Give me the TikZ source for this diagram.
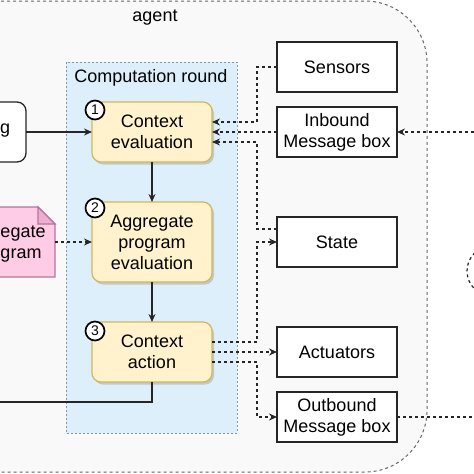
\documentclass[tikz,border=0pt]{standalone}
\usepackage{fontspec}
\setmainfont{Liberation Sans}
\usetikzlibrary{arrows.meta,calc,shadows}
\definecolor{agentfill}{HTML}{F9F9F9}
\definecolor{agentline}{HTML}{666666}
\definecolor{crfill}{HTML}{DEEFFC}
\definecolor{crline}{HTML}{7F96AE}
\definecolor{yfill}{HTML}{FFF2CC}
\definecolor{yline}{HTML}{D6B656}
\definecolor{pfill}{HTML}{FFCCE6}
\definecolor{pline}{HTML}{B5739D}
\definecolor{pfold}{HTML}{EDAFCD}
\begin{document}
\begin{tikzpicture}[x=1pt,y=-1pt,
  every node/.style={font=\fontsize{18}{21}\selectfont, align=center, outer sep=0pt},
  ybox/.style={draw=yline, fill=yfill, line width=1.2pt, rounded corners=9pt,
    minimum width=120pt, drop shadow={shadow xshift=2pt, shadow yshift=-2.5pt, opacity=0.35}},
  wbox/.style={draw=black!85, fill=white, line width=1.3pt, minimum width=120pt, minimum height=50pt},
  numc/.style={circle, draw=black, fill=white, line width=1.7pt, minimum size=19pt, inner sep=0pt,
    font=\fontsize{14}{14}\selectfont},
  solidarrow/.style={draw=black!85, line width=1.2pt, -{Stealth[length=8pt,width=7pt]}},
  solidline/.style={draw=black!85, line width=1.2pt},
  dasharrow/.style={draw=black!85, line width=1.2pt, dash pattern=on 3pt off 3pt, -{Stealth[length=8pt,width=7pt]}},
  dashline/.style={draw=black!85, line width=1.2pt, dash pattern=on 3pt off 3pt},
]
\useasboundingbox (0,0) rectangle (474,474);
\clip (0,0) rectangle (474,474);
\fill[white] (0,0) rectangle (474,474);

% agent container
\draw[fill=agentfill, draw=agentline, line width=1pt, dash pattern=on 3pt off 3pt, rounded corners=62pt]
  (-150,1) rectangle (427,472);
\node (agentlbl) at (155,18) {agent};

% computation round
\draw[fill=crfill, draw=crline, line width=1pt, dash pattern=on 2pt off 2pt]
  (66,62) rectangle (237,433);
\node (crlbl) at (151,78) {Computation round};

% yellow steps
\node[ybox, minimum height=60pt] (CE) at (152,132) {Context\\evaluation};
\node[ybox, minimum height=80pt] (AP) at (152,242) {Aggregate\\program\\evaluation};
\node[ybox, minimum height=60pt] (CA) at (152,352) {Context\\action};

\node[numc] (n1) at (95,110) {1};
\node[numc] (n2) at (95,208) {2};
\node[numc] (n3) at (95,331) {3};

% right boxes
\node[wbox] (sens) at (337,67) {Sensors};
\node[wbox] (inb) at (337,132) {Inbound\\Message box};
\node[wbox] (state) at (337,242) {State};
\node[wbox] (act) at (337,352) {Actuators};
\node[wbox] (outb) at (337,417) {Outbound\\Message box};

% left box
\node[draw=black!85, fill=white, line width=1.3pt, rounded corners=9pt, minimum width=120pt, minimum height=60pt] (sched) at (-34,132) {};
\node[inner sep=0pt, anchor=base west] (schedtxt) at (0,133) {g};

% pink note
\draw[fill=pfill, draw=pline, line width=1.2pt] (-55,207) -- (38,207) -- (55,224) -- (55,277) -- (-55,277) -- cycle;
\draw[fill=pfold, draw=pline, line width=1.2pt] (38,207) -- (38,224) -- (55,224) -- cycle;
\coordinate (prog) at (55,242);
\node[inner sep=0pt, anchor=base west] (progtxt1) at (0.5,237) {egate};
\node[inner sep=0pt, anchor=base west] (progtxt2) at (0.5,258) {gram};

% dashed circle on the right
\draw[draw=black!85, line width=1.2pt, dash pattern=on 3pt off 3pt] (492,271) circle[radius=25];

% outside coordinates
\coordinate (inext) at (480,132);
\coordinate (outext) at (480,417);
\coordinate (loopend) at (-10,402);

% solid connectors
\draw[solidarrow] (sched.east) -- (CE.west);
\draw[solidarrow] (CE.south) -- (AP.north);
\draw[solidarrow] (AP.south) -- (CA.north);
\draw[solidline] (CA.south) |- (loopend);

% dashed connectors
\draw[dasharrow] (prog) -- (AP.west);
\draw[dasharrow] (sens.west) -- ++(-20,0) |- ($(CE.east)+(0,-10)$);
\draw[dasharrow] (inb.west) -- (CE.east);
\draw[dasharrow] ($(state.west)+(0,-13)$) -- ++(-20,0) |- ($(CE.east)+(0,10)$);
\draw[dasharrow] ($(CA.east)+(0,-10)$) -- ++(45,0) |- (state.west);
\draw[dasharrow] (CA.east) -- (act.west);
\draw[dasharrow] ($(CA.east)+(0,10)$) -- ++(45,0) |- (outb.west);
\draw[dasharrow] (inext) -- (inb.east);
\draw[dashline] (outb.east) -- (outext);
\end{tikzpicture}
\end{document}
